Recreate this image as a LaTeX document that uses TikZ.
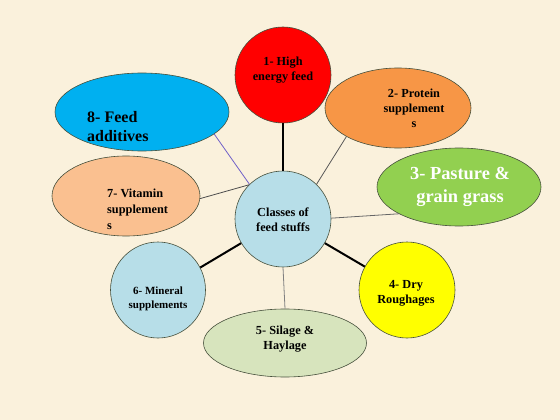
\documentclass[tikz,border=0pt]{standalone}
\usepackage{fontspec}
\setmainfont{Liberation Serif}
\usetikzlibrary{shapes.geometric}
\definecolor{paper}{RGB}{250,241,220}
\definecolor{rimgray}{RGB}{70,80,60}
\definecolor{hotred}{RGB}{255,0,0}
\definecolor{protorange}{RGB}{247,150,70}
\definecolor{additblue}{RGB}{0,176,240}
\definecolor{grassgreen}{RGB}{146,208,80}
\definecolor{vitpeach}{RGB}{250,192,144}
\definecolor{minblue}{RGB}{183,222,232}
\definecolor{dryyellow}{RGB}{255,255,0}
\definecolor{silgreen}{RGB}{215,228,189}
\definecolor{linkblue}{RGB}{112,96,200}

\begin{document}
\begin{tikzpicture}[
  x = 1pt, y = -1pt,
  blob/.style = {ellipse, draw=rimgray, line width=0.6pt, inner sep=0pt},
  lbl/.style = {inner sep=0pt, font=\bfseries\fontsize{12.3}{15}\selectfont},
  thick link/.style = {line width=2pt, black},
  thin link/.style = {line width=0.8pt}
]
  \fill[paper] (0,0) rectangle (560,420);
  \useasboundingbox (0,0) rectangle (560,420);

  % hub and the eight classes
  \node[blob, fill=minblue, minimum width=96pt, minimum height=96pt] (core) at (283,219) {};
  \node[blob, fill=hotred, minimum width=96pt, minimum height=96pt] (hef) at (283,75) {};
  \node[blob, fill=protorange, minimum width=146pt, minimum height=80pt] (prot) at (398,108) {};
  \node[blob, fill=grassgreen, minimum width=164pt, minimum height=78pt] (past) at (459,187) {};
  \node[blob, fill=dryyellow, minimum width=96pt, minimum height=96pt] (dry) at (407,290) {};
  \node[blob, fill=silgreen, minimum width=163pt, minimum height=68pt] (sil) at (285,343) {};
  \node[blob, fill=minblue, minimum width=95pt, minimum height=96pt] (mine) at (158,290) {};
  \node[blob, fill=vitpeach, minimum width=148pt, minimum height=80pt] (vit) at (126,196) {};
  \node[blob, fill=additblue, minimum width=174pt, minimum height=78pt] (addt) at (142,112) {};

  % labels
  \node[lbl, align=center] (core-t) at (283,220) {Classes of\\feed stuffs};
  \node[lbl, align=center] (hef-t) at (283,70) {1- High\\energy feed};
  \node[lbl, align=center] (prot-t) at (414,108) {2- Protein\\supplement\\s};
  \node[lbl, align=center, white, font=\bfseries\fontsize{18.4}{23}\selectfont] (past-t) at (460,187) {3- Pasture \&\\grain grass};
  \node[lbl, align=center] (dry-t) at (406,293) {4- Dry\\Roughages};
  \node[lbl, align=center] (sil-t) at (285,339) {5- Silage \&\\Haylage};
  \node[lbl, align=center, font=\bfseries\fontsize{11}{13.5}\selectfont] (mine-t) at (158,299) {6- Mineral\\supplements};
  \node[lbl, align=left, anchor=west, font=\bfseries\fontsize{12.3}{16}\selectfont] (vit-t) at (107,209) {7- Vitamin\\supplement\\s};
  \node[lbl, align=left, anchor=west, font=\bfseries\fontsize{16}{19}\selectfont] (addt-t) at (87,127) {8- Feed\\additives};

  % spokes
  \draw[thick link] (core.90) -- (hef.270);
  \draw[thin link, black!65] (core.46) -- (prot.209);
  \draw[thin link, black!60] (core.1) -- (past.204);
  \draw[thick link] (core.-30) -- (dry.151);
  \draw[thin link, black!50] (core.270) -- (sil.90);
  \draw[thick link] (core.210) -- (mine.28);
  \draw[thin link, black!70] (core.135) -- (vit.-2);
  \draw[thin link, linkblue] (core.134) -- (addt.-17);
\end{tikzpicture}
\end{document}
